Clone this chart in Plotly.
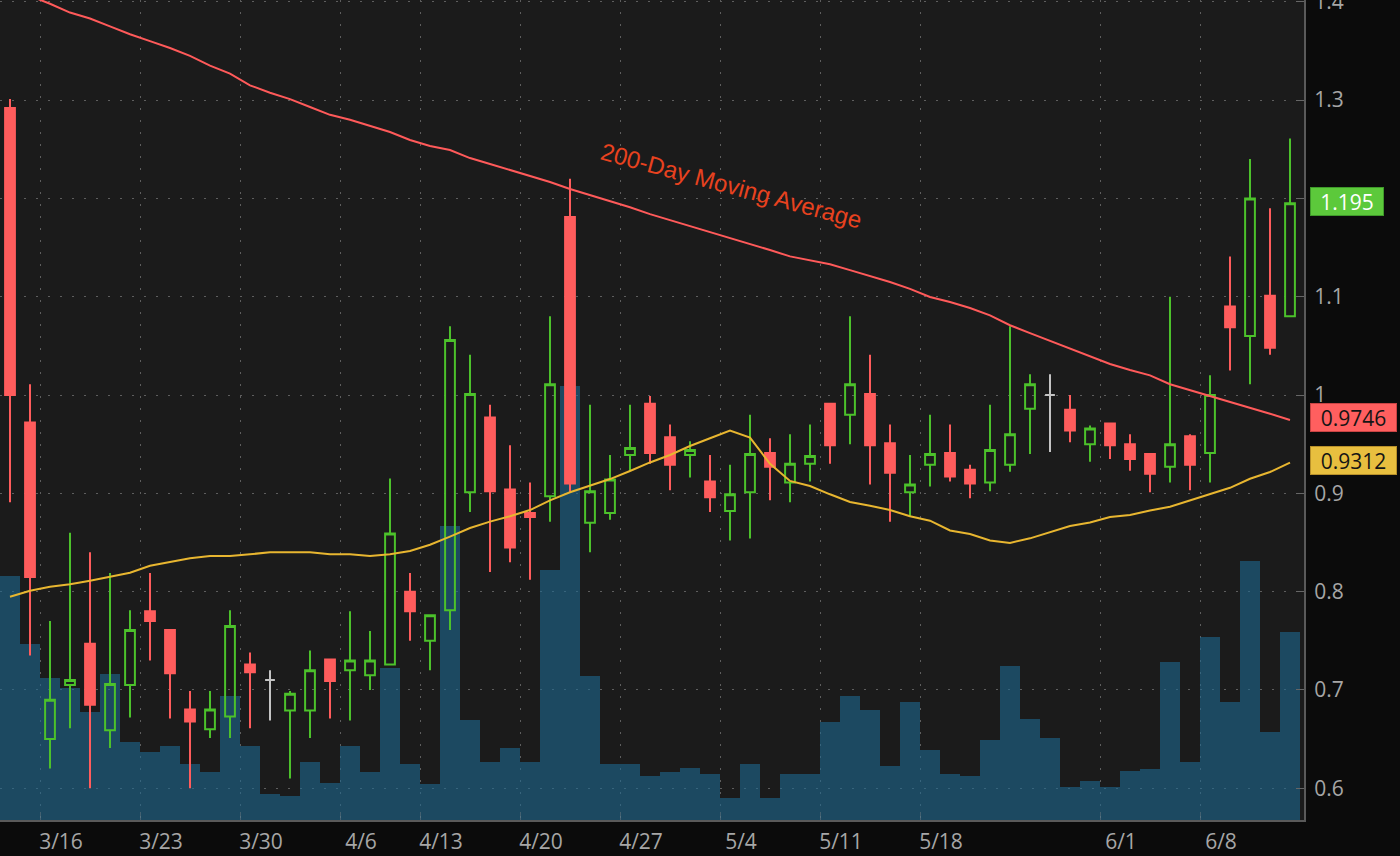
import plotly.graph_objects as go
import pandas as pd

# ---------------- data ----------------
dates = [
    "2020-03-12", "2020-03-13",
    "2020-03-16", "2020-03-17", "2020-03-18", "2020-03-19", "2020-03-20",
    "2020-03-23", "2020-03-24", "2020-03-25", "2020-03-26", "2020-03-27",
    "2020-03-30", "2020-03-31", "2020-04-01", "2020-04-02", "2020-04-03",
    "2020-04-06", "2020-04-07", "2020-04-08", "2020-04-09",
    "2020-04-13", "2020-04-14", "2020-04-15", "2020-04-16", "2020-04-17",
    "2020-04-20", "2020-04-21", "2020-04-22", "2020-04-23", "2020-04-24",
    "2020-04-27", "2020-04-28", "2020-04-29", "2020-04-30", "2020-05-01",
    "2020-05-04", "2020-05-05", "2020-05-06", "2020-05-07", "2020-05-08",
    "2020-05-11", "2020-05-12", "2020-05-13", "2020-05-14", "2020-05-15",
    "2020-05-18", "2020-05-19", "2020-05-20", "2020-05-21", "2020-05-22",
    "2020-05-26", "2020-05-27", "2020-05-28", "2020-05-29",
    "2020-06-01", "2020-06-02", "2020-06-03", "2020-06-04", "2020-06-05",
    "2020-06-08", "2020-06-09", "2020-06-10", "2020-06-11", "2020-06-12",
]

opens = [1.292, 0.972, 0.650, 0.705, 0.747, 0.659, 0.705, 0.780, 0.761, 0.680,
         0.660, 0.673, 0.726, 0.710, 0.679, 0.679, 0.731, 0.720, 0.715, 0.726,
         0.800, 0.750, 0.781, 0.901, 0.977, 0.904, 0.880, 0.897, 1.181, 0.870,
         0.880, 0.939, 0.991, 0.957, 0.939, 0.912, 0.882, 0.901, 0.941, 0.911,
         0.930, 0.991, 0.980, 1.001, 0.951, 0.901, 0.929, 0.941, 0.924, 0.911,
         0.929, 0.986, 1.000, 0.985, 0.950, 0.971, 0.950, 0.940, 0.927, 0.958,
         0.941, 1.090, 1.060, 1.101, 1.080]

highs = [1.301, 1.011, 0.770, 0.860, 0.840, 0.819, 0.781, 0.819, 0.761, 0.699,
         0.699, 0.781, 0.738, 0.720, 0.699, 0.740, 0.731, 0.780, 0.760, 0.915,
         0.819, 0.776, 1.070, 1.041, 0.990, 0.949, 0.911, 1.080, 1.220, 0.990,
         0.939, 0.990, 0.999, 0.970, 0.953, 0.939, 0.929, 0.980, 0.956, 0.960,
         0.970, 0.991, 1.080, 1.041, 0.970, 0.939, 0.980, 0.970, 0.929, 0.990,
         1.070, 1.021, 1.021, 1.000, 0.969, 0.971, 0.960, 0.940, 1.100, 0.960,
         1.020, 1.141, 1.240, 1.190, 1.261]

lows = [0.891, 0.735, 0.620, 0.661, 0.600, 0.641, 0.672, 0.730, 0.671, 0.600,
        0.651, 0.651, 0.661, 0.669, 0.610, 0.651, 0.671, 0.669, 0.700, 0.726,
        0.750, 0.720, 0.761, 0.881, 0.820, 0.830, 0.812, 0.871, 0.901, 0.840,
        0.873, 0.923, 0.930, 0.903, 0.916, 0.881, 0.852, 0.854, 0.893, 0.891,
        0.912, 0.930, 0.950, 0.909, 0.871, 0.877, 0.907, 0.912, 0.895, 0.902,
        0.922, 0.940, 0.942, 0.952, 0.932, 0.935, 0.923, 0.901, 0.911, 0.903,
        0.911, 1.025, 1.011, 1.041, 1.080]

closes = [1.000, 0.815, 0.690, 0.710, 0.685, 0.706, 0.761, 0.770, 0.717, 0.668,
          0.680, 0.765, 0.718, 0.710, 0.696, 0.720, 0.709, 0.730, 0.730, 0.859,
          0.780, 0.776, 1.056, 1.001, 0.902, 0.845, 0.876, 1.011, 0.910, 0.902,
          0.914, 0.946, 0.941, 0.929, 0.944, 0.896, 0.899, 0.940, 0.927, 0.930,
          0.938, 0.949, 1.011, 0.949, 0.921, 0.909, 0.940, 0.917, 0.910, 0.944,
          0.960, 1.011, 1.000, 0.964, 0.966, 0.949, 0.935, 0.920, 0.950, 0.929,
          1.000, 1.069, 1.200, 1.048, 1.195]

# volume, thousands of shares
volume = [4880, 3520, 2840, 2640, 2160, 2920, 1560, 1360, 1480, 1120,
          960, 2480, 1480, 520, 480, 1160, 740, 1480, 960, 3040,
          1120, 720, 5880, 2000, 1160, 1440, 1160, 5000, 8680, 2880,
          1120, 1120, 880, 960, 1040, 920, 440, 1120, 440, 920,
          920, 1960, 2480, 2200, 1080, 2360, 1400, 920, 880, 1600,
          3080, 2020, 1640, 660, 780, 660, 980, 1020, 3160, 1160,
          3660, 2360, 5180, 1760, 3760]

ma200 = [1.414, 1.406, 1.398, 1.389, 1.383, 1.375, 1.367, 1.360, 1.353, 1.345,
         1.335, 1.327, 1.315, 1.3075, 1.301, 1.293, 1.285, 1.280, 1.274, 1.2675,
         1.2594, 1.2533, 1.2492, 1.241, 1.235, 1.229, 1.2228, 1.2167, 1.2096, 1.2035,
         1.1974, 1.191, 1.184, 1.178, 1.172, 1.166, 1.160, 1.1536, 1.1475, 1.141,
         1.137, 1.133, 1.127, 1.121, 1.115, 1.108, 1.0997, 1.0946, 1.0885, 1.081,
         1.071, 1.063, 1.055, 1.047, 1.0387, 1.0315, 1.0254, 1.020, 1.011, 1.005,
         0.9995, 0.993, 0.987, 0.981, 0.9746]

ma20 = [0.7948, 0.8009, 0.805, 0.8074, 0.8111, 0.8152, 0.8192, 0.8263, 0.8298, 0.8339,
        0.8362, 0.8362, 0.838, 0.840, 0.840, 0.840, 0.838, 0.838, 0.8362, 0.838,
        0.8413, 0.8477, 0.856, 0.8647, 0.8712, 0.8766, 0.883, 0.8928, 0.9011, 0.9074,
        0.9145, 0.9227, 0.9314, 0.939, 0.9481, 0.956, 0.9639, 0.9567, 0.930, 0.9126,
        0.9074, 0.899, 0.8912, 0.8874, 0.883, 0.8766, 0.8722, 0.8622, 0.8586, 0.8521,
        0.8496, 0.8542, 0.8606, 0.8667, 0.8703, 0.8759, 0.878, 0.8826, 0.8863, 0.8927,
        0.8987, 0.9056, 0.9148, 0.9217, 0.9312]

price_ticks = [0.6, 0.7, 0.8, 0.9, 1.0, 1.1, 1.2, 1.3, 1.4]
# the 1.2 label is covered by the last-price badge in the reference
price_tick_text = ["0.6", "0.7", "0.8", "0.9", "1", "1.1", "", "1.3", "1.4"]

# ---------------- derived ----------------
idx = list(range(len(dates)))
dt = pd.to_datetime(dates)
monday_idx = [i for i, d in enumerate(dt) if d.weekday() == 0]
date_tickvals = [i - 0.5 for i in monday_idx]
date_ticktext = [f"{dt[i].month}/{dt[i].day}" for i in monday_idx]

doji = [i for i in idx if opens[i] == closes[i]]
regular = [i for i in idx if i not in doji]

def pick(arr, sel):
    return [arr[i] for i in sel]

GREEN = "#4cc12b"
RED = "#ff5c5c"
GRAY = "#c4c4c4"
YELLOW = "#e8b630"
GRID = "#5e5e5e"
TICKFONT = dict(family="Open Sans", size=21, color="#a6a6a6")

fig = go.Figure()

fig.add_trace(go.Bar(
    x=idx, y=volume, width=1.0,
    marker=dict(color="rgba(30,105,145,0.6)", line=dict(width=0)),
    yaxis="y", hoverinfo="skip", name="Volume",
))

fig.add_trace(go.Candlestick(
    x=pick(idx, regular), open=pick(opens, regular), high=pick(highs, regular),
    low=pick(lows, regular), close=pick(closes, regular),
    increasing=dict(line=dict(color=GREEN, width=2), fillcolor="rgba(0,0,0,0)"),
    decreasing=dict(line=dict(color=RED, width=2), fillcolor=RED),
    whiskerwidth=0, yaxis="y2", name="Price",
))

fig.add_trace(go.Candlestick(
    x=pick(idx, doji), open=pick(opens, doji), high=pick(highs, doji),
    low=pick(lows, doji), close=pick(closes, doji),
    increasing=dict(line=dict(color=GRAY, width=2), fillcolor=GRAY),
    decreasing=dict(line=dict(color=GRAY, width=2), fillcolor=GRAY),
    whiskerwidth=0, yaxis="y2", name="Doji",
))

fig.add_trace(go.Scatter(
    x=idx, y=ma200, mode="lines", line=dict(color="#ff5a5a", width=2),
    yaxis="y2", name="200-Day MA", hoverinfo="skip",
))
fig.add_trace(go.Scatter(
    x=idx, y=ma20, mode="lines", line=dict(color=YELLOW, width=2),
    yaxis="y2", name="MA", hoverinfo="skip",
))

annotations = [
    dict(text="200-Day Moving Average", x=36.05, y=1.2136, xref="x", yref="y2",
         showarrow=False, textangle=15,
         font=dict(family="Liberation Sans", size=24, color="#e8421f")),
]
badges = [
    (closes[-1], f"{closes[-1]:.3f}", "#5cc93b", "#3f9a2a", "#ffffff", 72),
    (ma200[-1], f"{ma200[-1]:.4f}", "#ff5f5f", "#c94444", "#151515", 85),
    (ma20[-1], f"{ma20[-1]:.4f}", "#e8bf3f", "#b8902a", "#151515", 85),
]
for val, txt, bg, bd, fc, w in badges:
    annotations.append(dict(
        text=txt, x=1, xref="paper", xanchor="left", xshift=6,
        y=val, yref="y2", yanchor="middle", yshift=2, showarrow=False,
        bgcolor=bg, bordercolor=bd, borderwidth=1, borderpad=0,
        width=w, height=27, align="center",
        font=dict(family="Open Sans", size=21, color=fc),
    ))

fig.update_layout(
    width=1400, height=856,
    margin=dict(l=0, r=96, t=0, b=36, autoexpand=False),
    paper_bgcolor="#0b0b0b", plot_bgcolor="#1b1b1b",
    showlegend=False,
    annotations=annotations,
    xaxis=dict(
        range=[-0.5, 64.7], tickmode="array", tickvals=date_tickvals, ticktext=date_ticktext,
        showgrid=True, gridcolor=GRID, griddash="2px,10px", gridwidth=1,
        ticks="inside", ticklen=8, tickcolor="rgba(140,140,140,0.35)",
        showline=True, linecolor="#5a5a5a", linewidth=2, zeroline=False,
        tickfont=TICKFONT, ticklabelshift=21, ticklabelstandoff=2,
        rangeslider=dict(visible=False), fixedrange=True, automargin=False,
    ),
    yaxis=dict(range=[0, 16400], visible=False, showgrid=False, fixedrange=True,
               automargin=False),
    yaxis2=dict(
        overlaying="y", side="right", range=[0.5677, 1.4018],
        tickmode="array", tickvals=price_ticks, ticktext=price_tick_text,
        showgrid=True, gridcolor=GRID, griddash="2px,10px", gridwidth=1,
        ticks="inside", ticklen=8, tickcolor="#666666",
        showline=True, linecolor="#5a5a5a", linewidth=2, zeroline=False,
        tickfont=TICKFONT, ticklabelstandoff=4, ticklabeloverflow="allow",
        fixedrange=True, automargin=False,
    ),
)

fig.write_html("out.html")
